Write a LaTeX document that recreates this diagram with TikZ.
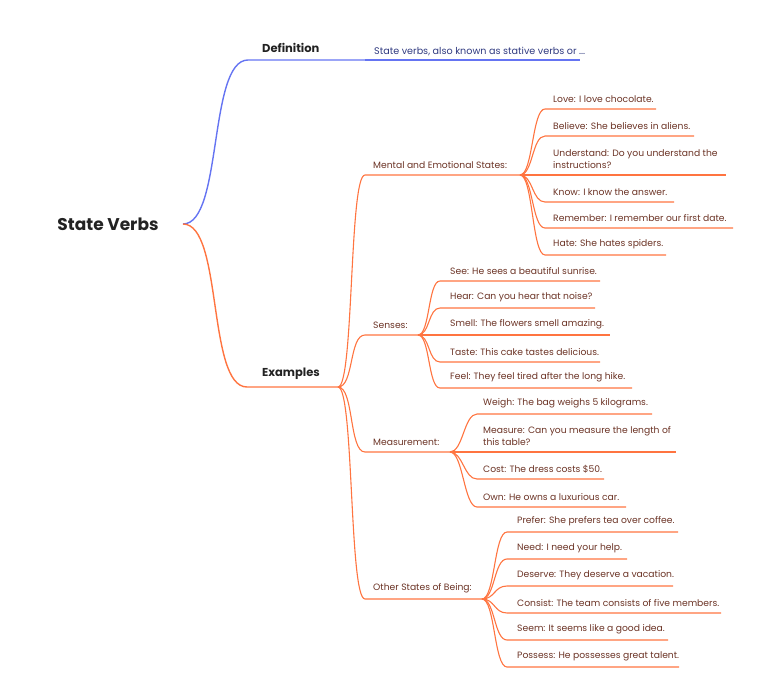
\documentclass[tikz,border=0pt]{standalone}
\usepackage{fontspec}
\setmainfont{Poppins}
\usepackage{tikz}
\definecolor{brorange}{HTML}{FF7440}
\definecolor{brblue}{HTML}{6574F2}
\definecolor{leaftext}{HTML}{6B3325}
\definecolor{deftext}{HTML}{303A80}
\definecolor{maintext}{HTML}{222222}
\tikzset{
  root/.style={inner sep=0pt,font=\fontsize{17}{19}\selectfont\bfseries,text=maintext},
  topic/.style={anchor=south west,inner sep=0pt,font=\fontsize{11.5}{13}\selectfont\bfseries,text=maintext},
  leaf/.style={anchor=south west,inner sep=0pt,align=left,font=\fontsize{9.2}{12}\selectfont,text=leaftext},
  deftxt/.style={leaf,font=\fontsize{9.6}{12}\selectfont,text=deftext},
  trunk/.style={draw=brorange,line width=1.4pt},
  twig/.style={draw=brorange,line width=1.1pt},
  defline/.style={draw=brblue,line width=1.4pt}
}
\begin{document}
\begin{tikzpicture}[x=1pt,y=-1pt]
\useasboundingbox (0,0) rectangle (768,698);
\node[root] (sv) at (108,224) {State Verbs};\coordinate (sv-e) at (183,224);
\coordinate (def-s) at (248,60);\coordinate (def-e) at (365,60);
\node[topic] (def) at (262,53) {Definition};
\draw[defline] (sv-e) .. controls +(40,0) and +(-40,0) .. (def-s) -- (def-e);
\coordinate (dt-e) at (580,60);
\node[deftxt] (dt) at (374,56) {State verbs, also known as stative verbs or ...};
\draw[defline] (def-e) -- (dt-e);
\coordinate (ex-s) at (247,387);\coordinate (ex-e) at (338,387);
\node[topic] (ex) at (262,380) {Examples};
\draw[trunk] (sv-e) .. controls +(40,0) and +(-40,0) .. (ex-s) -- (ex-e);
\foreach \n/\y/\e/\t in {me/175/520/{Mental and Emotional States:},se/335/418/{Senses:},ms/452/450/{Measurement:},ot/599/482/{Other States of Being:}} {
\coordinate (\n-s) at (365,\y);\coordinate (\n-e) at (\e,\y);\node[leaf] (\n) at (373,\y-6) {\t};
\draw[twig] (ex-e) .. controls +(16,0) and +(-16,0) .. (\n-s) -- (\n-e);}
\foreach \i/\y/\e/\t in {1/109/656/{Love: I love chocolate.},2/136/694/{Believe: She believes in aliens.},3/175/726/{Understand: Do you understand the\\instructions?},4/202/674/{Know: I know the answer.},5/228/733/{Remember: I remember our first date.},6/255/666/{Hate: She hates spiders.}} {
\coordinate (me\i-s) at (545,\y);\coordinate (me\i-e) at (\e,\y);\node[leaf] (me\i) at (553,\y-6) {\t};
\draw[twig] (me-e) .. controls +(13,0) and +(-13,0) .. (me\i-s) -- (me\i-e);}
\foreach \i/\y/\e/\t in {1/281/600/{See: He sees a beautiful sunrise.},2/308/595/{Hear: Can you hear that noise?},3/335/610/{Smell: The flowers smell amazing.},4/362/600/{Taste: This cake tastes delicious.},5/388/632/{Feel: They feel tired after the long hike.}} {
\coordinate (se\i-s) at (440,\y);\coordinate (se\i-e) at (\e,\y);\node[leaf] (se\i) at (450,\y-6) {\t};
\draw[twig] (se-e) .. controls +(12,0) and +(-12,0) .. (se\i-s) -- (se\i-e);}
\foreach \i/\y/\e/\t in {1/414/652/{Weigh: The bag weighs 5 kilograms.},2/452/676/{Measure: Can you measure the length of\\this table?},3/479/604/{Cost: The dress costs \$50.},4/507/626/{Own: He owns a luxurious car.}} {
\coordinate (ms\i-s) at (477,\y);\coordinate (ms\i-e) at (\e,\y);\node[leaf] (ms\i) at (483,\y-6) {\t};
\draw[twig] (ms-e) .. controls +(13,0) and +(-13,0) .. (ms\i-s) -- (ms\i-e);}
\foreach \i/\y/\e/\t in {1/532/678/{Prefer: She prefers tea over coffee.},2/559/627/{Need: I need your help.},3/586/673/{Deserve: They deserve a vacation.},4/613/721/{Consist: The team consists of five members.},5/640/668/{Seem: It seems like a good idea.},6/667/679/{Possess: He possesses great talent.}} {
\coordinate (ot\i-s) at (507,\y);\coordinate (ot\i-e) at (\e,\y);\node[leaf] (ot\i) at (517,\y-6) {\t};
\draw[twig] (ot-e) .. controls +(13,0) and +(-13,0) .. (ot\i-s) -- (ot\i-e);}
\end{tikzpicture}
\end{document}
